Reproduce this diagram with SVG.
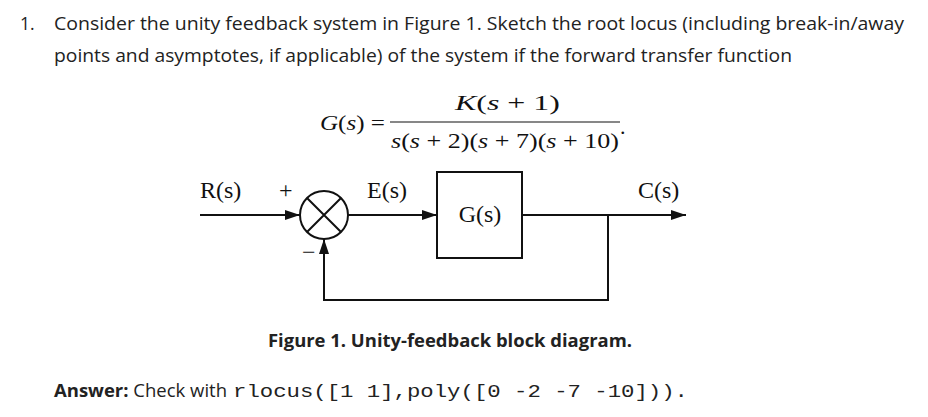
<svg xmlns="http://www.w3.org/2000/svg" width="928" height="417" viewBox="0 0 928 417">
<style>
.t{font-family:"Open Sans","Liberation Sans",sans-serif;font-size:17.5px;fill:#222}
.m{font-family:"Liberation Serif",serif;font-size:22px;fill:#111}
.b{font-family:"Liberation Serif",serif;font-size:24px;fill:#111}
.ln{stroke:#111;stroke-width:2;fill:none}
.mono{font-family:"Liberation Mono",monospace;font-size:19px}
</style>
<defs><marker id="a" viewBox="0 0 10 10" refX="10" refY="5" markerWidth="15" markerHeight="10" markerUnits="userSpaceOnUse" orient="auto" preserveAspectRatio="none"><path d="M0,0L10,5L0,10z" fill="#111"/></marker></defs>
<rect width="928" height="417" fill="#fff"/>
<text class="t" x="20" y="30">1.</text>
<text class="t" x="54" y="30" textLength="850" lengthAdjust="spacingAndGlyphs">Consider the unity feedback system in Figure 1. Sketch the root locus (including break-in/away</text>
<text class="t" x="54" y="62" textLength="738" lengthAdjust="spacingAndGlyphs">points and asymptotes, if applicable) of the system if the forward transfer function</text>
<g id="eq">
<text class="m" x="320" y="130" textLength="65" lengthAdjust="spacingAndGlyphs"><tspan font-style="italic">G</tspan>(<tspan font-style="italic">s</tspan>) =</text>
<text class="m" x="455" y="110" textLength="105" lengthAdjust="spacingAndGlyphs"><tspan font-style="italic">K</tspan>(<tspan font-style="italic">s</tspan> + 1)</text>
<line x1="390" y1="122" x2="620" y2="122" stroke="#111" stroke-width="1.2"/>
<text class="m" x="391" y="148" textLength="228" lengthAdjust="spacingAndGlyphs"><tspan font-style="italic">s</tspan>(<tspan font-style="italic">s</tspan> + 2)(<tspan font-style="italic">s</tspan> + 7)(<tspan font-style="italic">s</tspan> + 10)</text>
<text class="m" x="620" y="134">.</text>
</g>
<g id="sum"><circle cx="324" cy="215" r="24" class="ln"/><path d="M307,198L341,232M341,198L307,232" class="ln"/></g>
<g id="G"><rect x="437" y="172" width="85" height="86" class="ln" stroke-width="2.5"/><text class="b" x="480" y="222" text-anchor="middle">G(s)</text></g>
<g id="connectors">
<line x1="200" y1="215" x2="300" y2="215" class="ln" marker-end="url(#a)"/>
<line x1="348" y1="215" x2="437" y2="215" class="ln" marker-end="url(#a)"/>
<line x1="522" y1="215" x2="686" y2="215" class="ln" marker-end="url(#a)"/>
<polyline points="608,215 608,300 324,300 324,239" class="ln" marker-end="url(#a)"/>
</g>
<g id="labels">
<text class="b" x="200" y="198">R(s)</text>
<text class="b" x="279" y="198">+</text>
<text class="b" x="367" y="198">E(s)</text>
<text class="b" x="638" y="198">C(s)</text>
<text class="b" x="302" y="260">−</text>
</g>
<text class="t" x="450" y="347" text-anchor="middle" font-weight="bold" textLength="364" lengthAdjust="spacingAndGlyphs">Figure 1. Unity-feedback block diagram.</text>
<text class="t" x="54" y="397" textLength="173" lengthAdjust="spacingAndGlyphs"><tspan font-weight="bold">Answer:</tspan> Check with</text>
<text class="mono" x="233" y="397" fill="#222" textLength="455" lengthAdjust="spacingAndGlyphs">rlocus([1 1],poly([0 -2 -7 -10])).</text>
</svg>
